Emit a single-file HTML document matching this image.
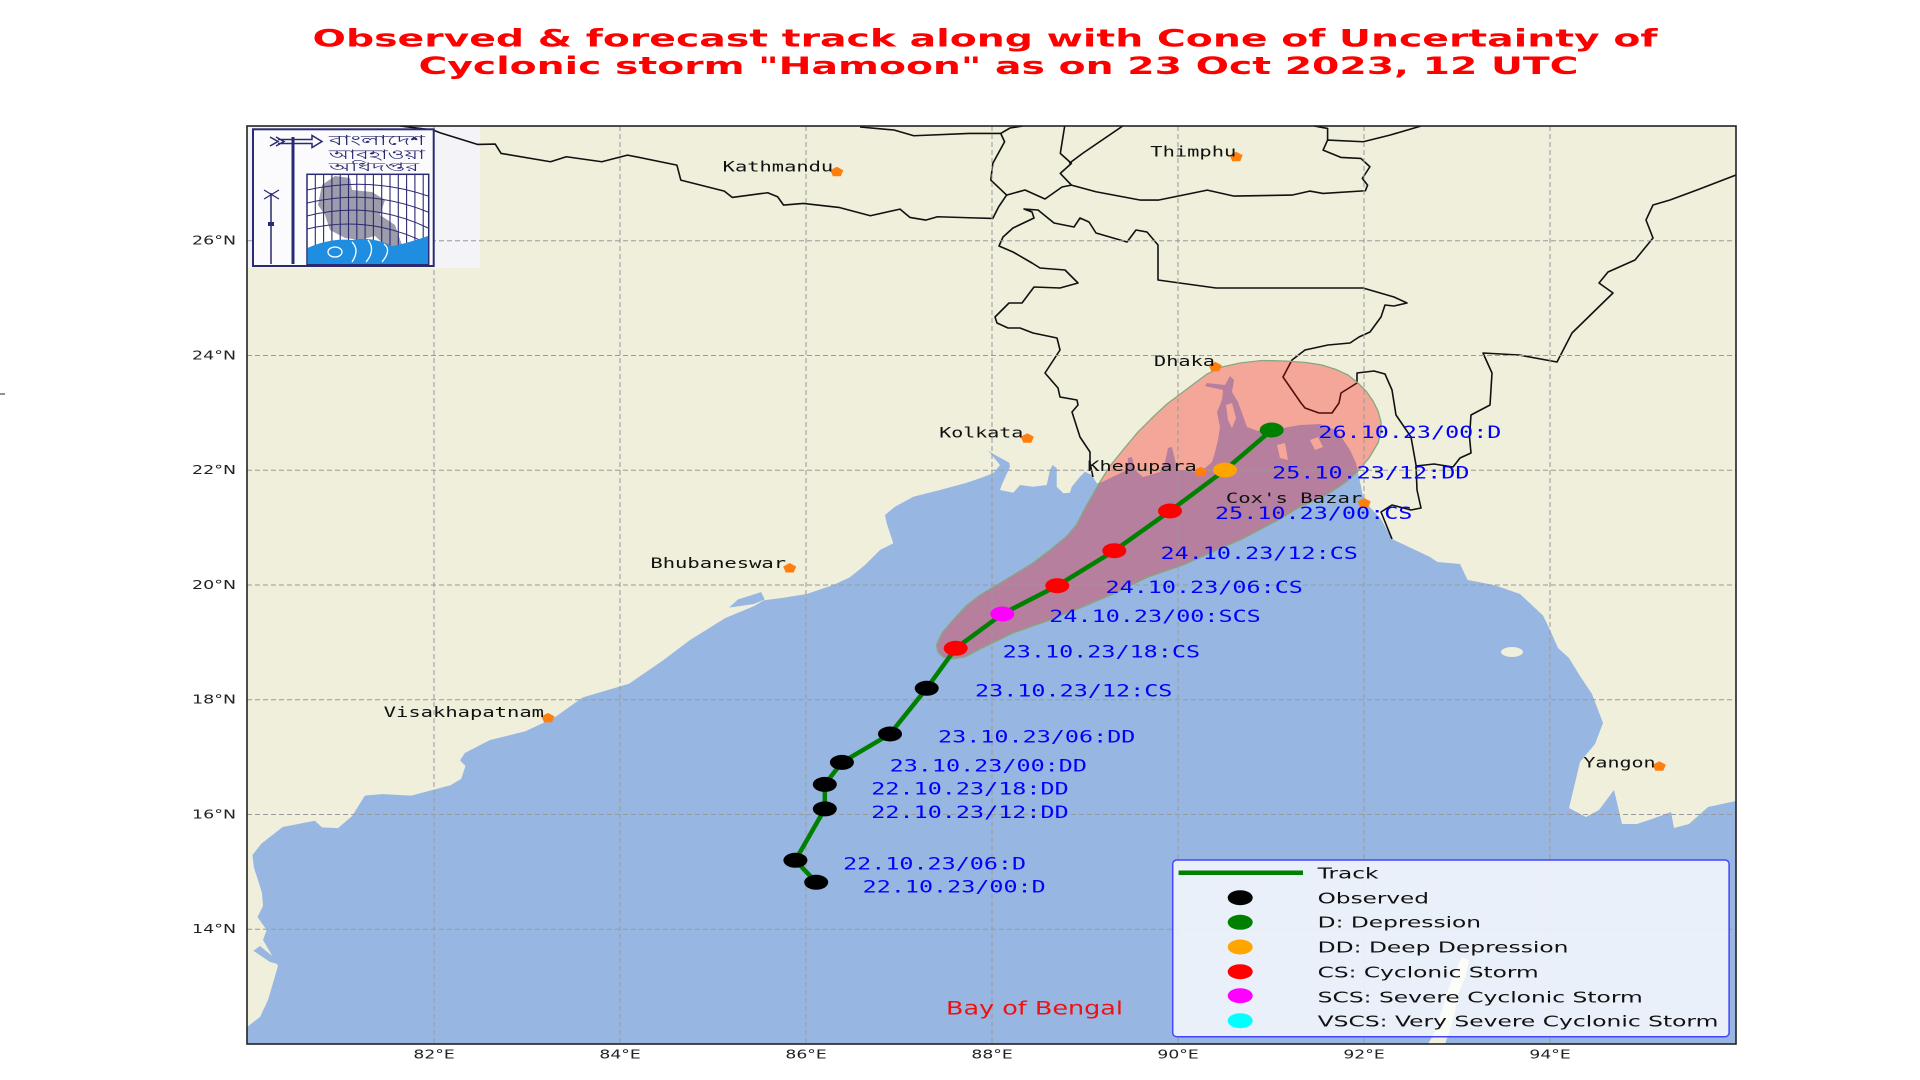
<!DOCTYPE html>
<html>
<head>
<meta charset="utf-8">
<style>
html,body{margin:0;padding:0;background:#fff;}
svg{display:block;}
.mono{font-family:"DejaVu Sans Mono","Liberation Mono",monospace;}
.sans{font-family:"DejaVu Sans","Liberation Sans",sans-serif;}
</style>
</head>
<body>
<svg width="1920" height="1080" viewBox="0 0 1920 1080" xmlns="http://www.w3.org/2000/svg">
<rect x="0" y="0" width="1920" height="1080" fill="#ffffff"/>

<!-- Title -->
<text class="sans" x="312.5" y="46.7" font-size="24.3" font-weight="bold" fill="#ff0000" textLength="1345" lengthAdjust="spacingAndGlyphs">Observed &amp; forecast track along with Cone of Uncertainty of</text>
<text class="sans" x="418.5" y="74" font-size="24.3" font-weight="bold" fill="#ff0000" textLength="1160" lengthAdjust="spacingAndGlyphs">Cyclonic storm "Hamoon" as on 23 Oct 2023, 12 UTC</text>

<line x1="0" y1="394" x2="5" y2="394" stroke="#222" stroke-width="1"/>

<defs>
<clipPath id="plot"><rect x="247" y="126" width="1489" height="918"/></clipPath>
</defs>

<g clip-path="url(#plot)">
<!-- land -->
<rect x="247" y="126" width="1489" height="918" fill="#efefdb"/>
<!-- ocean -->
<path fill="#97b6e1" d="M247,1027 L260,1017 L268,1000 L278,966 L266,945 L263,940 L266.7,930 L257.5,917 L263,906 L262,893 L258,880 L254,868 L252.4,855 L261.3,843.7 L282.7,827 L314.8,820.7 L322,827.4 L338,828.1 L352.3,815.9 L364.8,795.6 L382.7,794.1 L411.2,795.6 L450.5,785.2 L461.2,778.9 L465.5,766 L460.1,760.4 L464.8,753 L489.8,740.1 L525.5,731.2 L554,717.9 L582.6,697.5 L629,683.8 L662.9,660.5 L689.7,640.2 L725.4,618 L754,606.1 L764,600.2 L780,598.3 L806.7,594 L833.3,585 L850,577.3 L865,565 L880,550 L893.3,543.3 L886.7,523.3 L885,515 L895,506.7 L913.3,496.7 L940,490 L966.7,482.7 L980,478.3 L993.3,473.3 L1000,465 L990,452.7 L987.3,450 L993.3,454 L1009.3,462.7 L1010,466.7 L1001.7,485 L1000,490 L1013.3,492.7 L1020,485 L1033.3,486.7 L1046.7,485 L1050,470 L1052.7,465 L1056.7,468.3 L1056.7,486.7 L1063.3,493.3 L1070,492.7 L1071.7,486.7 L1080,476.7 L1085,471.7 L1091.7,475 L1096.7,483.3 L1100,483 L1127,470 L1128,458 L1132,457 L1135,470 L1143,477 L1160,472 L1165,462 L1168,448 L1172,447 L1175,460 L1177,470 L1187,470 L1195,472 L1205,468 L1212,462 L1215,452 L1218,440 L1220,427 L1217,412 L1222,400 L1223,390 L1205,386 L1207,383 L1225,385 L1230,376 L1234,380 L1232,392 L1238,402 L1242,413 L1247,427 L1258,431 L1271,428 L1283,428 L1300,425 L1320,424 L1335,430 L1342,438 L1350,450 L1356,463 L1359,477 L1364,501 L1381,519 L1392,539 L1411,548 L1430,557 L1437.5,562 L1460,564 L1467.6,580 L1494,585 L1520,594 L1543,615.5 L1550,630 L1558,648 L1569,658 L1580,676 L1592,694 L1603,723 L1595,744 L1580,762 L1575,783 L1569,808 L1586,817 L1599,810 L1614,790 L1622,824 L1637,824 L1652,819 L1671,812 L1674,828 L1689,824 L1708,807 L1736,801 L1736,1044 L247,1044 Z"/>
<!-- lakes -->
<path fill="#97b6e1" d="M253.3,950.7 L260,946 L275,958.3 L278,964 L270,962 Z"/>
<path fill="#97b6e1" d="M729,607.6 L737.9,599.5 L761.1,592.1 L764.7,599.5 L754,604 Z"/>
<!-- islands -->
<path fill="#efefdb" d="M1226,405 L1232,403 L1236,418 L1232,428 L1228,420 Z"/>
<path fill="#efefdb" d="M1277,445 L1285,443 L1288,460 L1280,458 Z"/>
<path fill="#efefdb" d="M1310,440 L1318,437 L1323,447 L1315,450 Z"/>
<ellipse cx="1512" cy="652" rx="11" ry="5" fill="#efefdb"/>
<path fill="#efefdb" d="M1462,957 L1469,960 L1466,975 L1458,995 L1455,1012 L1450,1030 L1445,1044 L1428,1044 L1436,1030 L1442,1010 L1448,990 L1455,972 Z"/>

<!-- logo light background -->
<rect x="247" y="126" width="233" height="142" fill="#f4f3f7"/>

<!-- borders -->
<g fill="none" stroke="#111" stroke-width="1.6" stroke-linejoin="round">
<path d="M400,126 L433,130 L440,132.75 L477.4,144.4 L495.2,144.1 L501.1,153.4 L550.5,161.75 L566.3,156.75 L601.8,161.75 L627.5,155.1 L676.9,165.1 L680.8,180.1 L724.3,191.1 L732.2,197.4 L767.7,192.75 L777.6,196.75 L783.6,205.1 L803.3,203.4 L838.8,207.4 L870.4,215.75 L900,209.1 L909.9,217.4 L925.7,220.1 L937.5,216.75 L969.1,217.75 L992.8,218.4 L998.7,206.75 L1006.6,195.1 L990.8,180.1 L992.8,163.4 L1004.6,141.75 L1000.7,133.4 L969.1,133.4 L913.8,135.75 L894,130 L860,127"/>
<path d="M1000.7,133.4 L1010,128 L1023,126"/>
<path d="M1006.6,195.1 L1025,190 L1045,199 L1062,187 L1071.4,185.1"/>
<path d="M1064.7,126 L1060.3,153.4 L1071.4,163.4 L1060.3,173.4 L1071.4,185.1 L1095.9,191.75 L1140.5,200.1 L1158.3,200.1 L1207.3,190.1 L1234,196.1 L1291.9,195.1 L1309.7,191.1 L1323.1,193.4 L1365.4,190.75 L1367.6,185.1 L1362.3,178.4 L1369.9,166.75 L1360.9,158.4 L1340.9,157.4 L1323.1,150.1 L1327.6,140.1 L1363.2,141.75 L1389.9,135.1 L1421.1,126"/>
<path d="M1069.2,163.4 L1082.6,153.4 L1122.7,126"/>
<path d="M1327.6,140.1 L1327.6,128.4 L1314,126"/>
<path d="M1093,477 L1090,463 L1090,452 L1080,437 L1072,412 L1078,405 L1077,400 L1060,397 L1058,388 L1045,373 L1060,350 L1057,338 L1033,333 L1020,328 L1008,328 L997,323 L995,317 L1009,303 L1022,303 L1034,287 L1060,288 L1078,283 L1065,270 L1040,268 L1032,263 L1013,252 L999,246 L1003,237 L1013,228 L1034,218 L1032,212 L1024,209 L1038,210 L1054,223 L1074,227 L1080,218 L1089,222 L1096,233 L1127,242 L1136,230 L1147,232 L1158,245 L1158,280 L1216,288 L1305,288 L1363,288 L1394,297 L1407,303 L1394,306 L1385,305 L1381,317 L1370,332 L1359,337 L1350,343 L1328,345 L1305,350 L1292,360 L1283,377 L1301,403 L1305,408 L1319,413 L1332,413 L1339,403 L1341,393 L1357,383 L1357,373 L1374,371 L1385,374 L1392,390 L1396,415 L1411,437 L1416,465 L1417,490 L1421,508 L1411,510 L1392,505 L1381,512 L1392,539"/>
<path d="M1736,175 L1697,190 L1670,200 L1653,205 L1646,220 L1653,238 L1635,260 L1608,272 L1599,283 L1613,293 L1572,333 L1557,362 L1519,355 L1483,353 L1492,373 L1490,405 L1471,415 L1469.5,437 L1471,453 L1460,458 L1453,467 L1434,464 L1416,466"/>
</g>

<!-- cone -->
<path fill="rgba(255,0,0,0.3)" stroke="#86a87e" stroke-width="1.3" d="M938,652 L936.5,645 L942,633 L953,620 L966,606 L980,595 L997,585 L1015,574 L1033,563 L1050,550 L1067,536 L1077,524 L1084,510 L1092,496 L1100,482 L1110,466 L1123,450 L1138,432 L1153,417 L1167,404 L1183,392 L1195,383 L1207,374 L1222,367 L1240,363 L1262,360.5 L1285,361 L1306,362.5 L1322,365 L1336,369.5 L1348,375 L1358,383 L1366,391 L1373,401 L1378,411 L1381,422 L1381,432 L1378,443 L1369,458 L1358,471 L1346,482 L1328,494 L1298,508 L1280,519 L1242,539 L1210,553 L1183,565 L1148,577 L1113,594 L1080,608 L1050,620 L1013,633 L980,649 L965,657 L952,659 L943,657 Z"/>

<!-- gridlines -->
<g stroke="#9a9a9a" stroke-width="1" stroke-dasharray="5,3" fill="none">
<line x1="434" y1="126" x2="434" y2="1044"/>
<line x1="620" y1="126" x2="620" y2="1044"/>
<line x1="806" y1="126" x2="806" y2="1044"/>
<line x1="992" y1="126" x2="992" y2="1044"/>
<line x1="1178" y1="126" x2="1178" y2="1044"/>
<line x1="1364" y1="126" x2="1364" y2="1044"/>
<line x1="1550" y1="126" x2="1550" y2="1044"/>
<line x1="247" y1="240.75" x2="1736" y2="240.75"/>
<line x1="247" y1="355.5" x2="1736" y2="355.5"/>
<line x1="247" y1="470.25" x2="1736" y2="470.25"/>
<line x1="247" y1="585" x2="1736" y2="585"/>
<line x1="247" y1="699.75" x2="1736" y2="699.75"/>
<line x1="247" y1="814.5" x2="1736" y2="814.5"/>
<line x1="247" y1="929.25" x2="1736" y2="929.25"/>
</g>

<!-- logo -->
<rect x="253" y="129.3" width="180.7" height="136.7" fill="#fbfbfd" stroke="#2a2a72" stroke-width="2"/>
<line x1="293" y1="137" x2="293" y2="264" stroke="#2a2a72" stroke-width="3"/>
<path d="M270,137 L278,141.5 L270,146 M276,137 L284,141.5 L276,146 M278,139.5 L312,139.5 L312,135.5 L322,141.5 L312,147.5 L312,143.5 L278,143.5" fill="none" stroke="#2a2a72" stroke-width="1.5"/>
<line x1="271" y1="193" x2="271" y2="264" stroke="#2a2a72" stroke-width="1.5"/>
<line x1="264" y1="190" x2="279" y2="199" stroke="#2a2a72" stroke-width="1.3"/>
<line x1="264" y1="199" x2="279" y2="190" stroke="#2a2a72" stroke-width="1.3"/>
<rect x="268" y="222" width="6" height="4" fill="#2a2a72"/>
<text x="329" y="145" font-family="'Liberation Sans',sans-serif" font-size="14" fill="#2a2a72" textLength="96" lengthAdjust="spacingAndGlyphs">বাংলাদেশ</text>
<text x="329" y="159" font-family="'Liberation Sans',sans-serif" font-size="13" fill="#2a2a72" textLength="96" lengthAdjust="spacingAndGlyphs">আবহাওয়া</text>
<text x="329" y="171" font-family="'Liberation Sans',sans-serif" font-size="12" fill="#2a2a72" textLength="90" lengthAdjust="spacingAndGlyphs">অধিদপ্তর</text>
<rect x="307" y="174.3" width="121.7" height="90" fill="#ffffff" stroke="#2a2a72" stroke-width="1.5"/>
<path fill="#9c9caa" d="M322,185 L335,176 L350,178 L352,190 L372,192 L385,200 L380,215 L395,225 L402,245 L390,250 L375,236 L360,240 L345,238 L330,230 L325,215 L318,205 Z"/>
<g stroke="#2a2a72" stroke-width="1.1">
<line x1="315.3" y1="175" x2="315.3" y2="264"/><line x1="323.6" y1="175" x2="323.6" y2="264"/>
<line x1="331.9" y1="175" x2="331.9" y2="264"/><line x1="340.2" y1="175" x2="340.2" y2="264"/>
<line x1="348.5" y1="175" x2="348.5" y2="264"/><line x1="356.8" y1="175" x2="356.8" y2="264"/>
<line x1="365.1" y1="175" x2="365.1" y2="264"/><line x1="373.4" y1="175" x2="373.4" y2="264"/>
<line x1="381.7" y1="175" x2="381.7" y2="264"/><line x1="390" y1="175" x2="390" y2="264"/>
<line x1="398.3" y1="175" x2="398.3" y2="264"/><line x1="406.6" y1="175" x2="406.6" y2="264"/>
<line x1="414.9" y1="175" x2="414.9" y2="264"/><line x1="423.2" y1="175" x2="423.2" y2="264"/>
</g>
<g stroke="#2a2a72" stroke-width="1" fill="none">
<path d="M307,190 Q370,176 428,196"/>
<path d="M307,203 Q370,188 428,212"/>
<path d="M307,216 Q370,200 428,228"/>
<path d="M307,229 Q370,214 428,244"/>
</g>
<path fill="#1f8de0" d="M307.5,264 L307.5,248 Q330,238 352,240 Q372,236 392,246 Q405,244 428,236 L428,264 Z"/>
<g stroke="#ffffff" stroke-width="1.3" fill="none">
<ellipse cx="335" cy="252" rx="7" ry="5"/>
<path d="M352,262 Q360,250 352,242"/>
<path d="M366,262 Q376,250 368,240"/>
<path d="M382,262 Q392,250 384,244"/>
</g>

<!-- track -->
<polyline fill="none" stroke="#008000" stroke-width="4.5" stroke-linejoin="round" points="816.2,882.3 795.4,860.3 824.8,808.9 824.8,784.4 841.9,762.4 890,734 926.7,688.3 955.7,648.3 1002.3,614 1057.3,585.7 1114.3,550.7 1170,511 1225,470 1271.7,430"/>
<g>
<ellipse cx="816.2" cy="882.3" rx="12" ry="7.5" fill="#000"/>
<ellipse cx="795.4" cy="860.3" rx="12" ry="7.5" fill="#000"/>
<ellipse cx="824.8" cy="808.9" rx="12" ry="7.5" fill="#000"/>
<ellipse cx="824.8" cy="784.4" rx="12" ry="7.5" fill="#000"/>
<ellipse cx="841.9" cy="762.4" rx="12" ry="7.5" fill="#000"/>
<ellipse cx="890" cy="734" rx="12" ry="7.5" fill="#000"/>
<ellipse cx="926.7" cy="688.3" rx="12" ry="7.5" fill="#000"/>
<ellipse cx="955.7" cy="648.3" rx="12" ry="7.5" fill="#ff0000"/>
<ellipse cx="1002.3" cy="614" rx="12" ry="7.5" fill="#ff00ff"/>
<ellipse cx="1057.3" cy="585.7" rx="12" ry="7.5" fill="#ff0000"/>
<ellipse cx="1114.3" cy="550.7" rx="12" ry="7.5" fill="#ff0000"/>
<ellipse cx="1170" cy="511" rx="12" ry="7.5" fill="#ff0000"/>
<ellipse cx="1225" cy="470" rx="12" ry="7.5" fill="#ffa500"/>
<ellipse cx="1271.7" cy="430" rx="12" ry="7.5" fill="#008000"/>
</g>

<!-- city markers -->
<g fill="#ff7f0e">
<polygon transform="translate(836.8,171.75)" points="0,-5 6.5,-1.5 4,4.5 -4,4.5 -6.5,-1.5"/>
<polygon transform="translate(1236.2,156.75)" points="0,-5 6.5,-1.5 4,4.5 -4,4.5 -6.5,-1.5"/>
<polygon transform="translate(1215.3,366.75)" points="0,-5 6.5,-1.5 4,4.5 -4,4.5 -6.5,-1.5"/>
<polygon transform="translate(1027.3,438.3)" points="0,-5 6.5,-1.5 4,4.5 -4,4.5 -6.5,-1.5"/>
<polygon transform="translate(1200.7,471.7)" points="0,-5 6.5,-1.5 4,4.5 -4,4.5 -6.5,-1.5"/>
<polygon transform="translate(1364.2,503)" points="0,-5 6.5,-1.5 4,4.5 -4,4.5 -6.5,-1.5"/>
<polygon transform="translate(789.7,568)" points="0,-5 6.5,-1.5 4,4.5 -4,4.5 -6.5,-1.5"/>
<polygon transform="translate(548,717.9)" points="0,-5 6.5,-1.5 4,4.5 -4,4.5 -6.5,-1.5"/>
<polygon transform="translate(1659.3,766.2)" points="0,-5 6.5,-1.5 4,4.5 -4,4.5 -6.5,-1.5"/>
</g>

<!-- city labels -->
<g class="mono" font-size="14" fill="#111">
<text x="722.7" y="171.5" textLength="110.5" lengthAdjust="spacingAndGlyphs">Kathmandu</text>
<text x="1150.3" y="156.7" textLength="86" lengthAdjust="spacingAndGlyphs">Thimphu</text>
<text x="1154" y="366" textLength="61" lengthAdjust="spacingAndGlyphs">Dhaka</text>
<text x="939.3" y="437.7" textLength="84" lengthAdjust="spacingAndGlyphs">Kolkata</text>
<text x="1087.3" y="471" textLength="109.4" lengthAdjust="spacingAndGlyphs">Khepupara</text>
<text x="1225.9" y="503" textLength="136.4" lengthAdjust="spacingAndGlyphs">Cox's Bazar</text>
<text x="650.4" y="568" textLength="135.7" lengthAdjust="spacingAndGlyphs">Bhubaneswar</text>
<text x="383.7" y="717.1" textLength="160.3" lengthAdjust="spacingAndGlyphs">Visakhapatnam</text>
<text x="1583.4" y="767.3" textLength="72.2" lengthAdjust="spacingAndGlyphs">Yangon</text>
</g>

<!-- track labels -->
<g class="mono" font-size="17" fill="#0000ff">
<text x="1318.4" y="438" textLength="183" lengthAdjust="spacingAndGlyphs">26.10.23/00:D</text>
<text x="1272.1" y="478.7" textLength="197.4" lengthAdjust="spacingAndGlyphs">25.10.23/12:DD</text>
<text x="1215" y="519" textLength="197.4" lengthAdjust="spacingAndGlyphs">25.10.23/00:CS</text>
<text x="1160.5" y="559" textLength="197.4" lengthAdjust="spacingAndGlyphs">24.10.23/12:CS</text>
<text x="1105.5" y="593" textLength="197.4" lengthAdjust="spacingAndGlyphs">24.10.23/06:CS</text>
<text x="1049.3" y="622" textLength="211.5" lengthAdjust="spacingAndGlyphs">24.10.23/00:SCS</text>
<text x="1002.7" y="657.3" textLength="197.4" lengthAdjust="spacingAndGlyphs">23.10.23/18:CS</text>
<text x="975" y="696.5" textLength="197.4" lengthAdjust="spacingAndGlyphs">23.10.23/12:CS</text>
<text x="938" y="742.5" textLength="197.4" lengthAdjust="spacingAndGlyphs">23.10.23/06:DD</text>
<text x="889.6" y="771.5" textLength="197.4" lengthAdjust="spacingAndGlyphs">23.10.23/00:DD</text>
<text x="871.3" y="794.5" textLength="197.4" lengthAdjust="spacingAndGlyphs">22.10.23/18:DD</text>
<text x="871.3" y="818" textLength="197.4" lengthAdjust="spacingAndGlyphs">22.10.23/12:DD</text>
<text x="843.1" y="869.3" textLength="183" lengthAdjust="spacingAndGlyphs">22.10.23/06:D</text>
<text x="862.7" y="892.6" textLength="183" lengthAdjust="spacingAndGlyphs">22.10.23/00:D</text>
</g>

<text class="sans" x="946" y="1014.5" font-size="19" fill="#ee1111" textLength="177" lengthAdjust="spacingAndGlyphs">Bay of Bengal</text>

<!-- legend -->
<rect x="1172.7" y="860" width="556.4" height="176.7" rx="4" ry="4" fill="rgba(255,255,255,0.8)" stroke="#4444ff" stroke-width="1.5"/>
<line x1="1178.6" y1="872.7" x2="1303" y2="872.7" stroke="#008000" stroke-width="4.5"/>
<ellipse cx="1240.2" cy="897.7" rx="12.5" ry="7.5" fill="#000000"/>
<ellipse cx="1240.2" cy="922.3" rx="12.5" ry="7.5" fill="#008000"/>
<ellipse cx="1240.2" cy="947" rx="12.5" ry="7.5" fill="#ffa500"/>
<ellipse cx="1240.2" cy="971.7" rx="12.5" ry="7.5" fill="#ff0000"/>
<ellipse cx="1240.2" cy="995.7" rx="12.5" ry="7.5" fill="#ff00ff"/>
<ellipse cx="1240.2" cy="1020.7" rx="12.5" ry="7.5" fill="#00ffff"/>
<g class="sans" font-size="15" fill="#111">
<text x="1317.7" y="878.3" textLength="60.8" lengthAdjust="spacingAndGlyphs">Track</text>
<text x="1317.7" y="903.3" textLength="111.3" lengthAdjust="spacingAndGlyphs">Observed</text>
<text x="1317.7" y="927.7" textLength="163.4" lengthAdjust="spacingAndGlyphs">D: Depression</text>
<text x="1317.7" y="952.7" textLength="250.8" lengthAdjust="spacingAndGlyphs">DD: Deep Depression</text>
<text x="1317.7" y="977.7" textLength="221" lengthAdjust="spacingAndGlyphs">CS: Cyclonic Storm</text>
<text x="1317.7" y="1002.3" textLength="325.1" lengthAdjust="spacingAndGlyphs">SCS: Severe Cyclonic Storm</text>
<text x="1317.7" y="1026.7" textLength="400.7" lengthAdjust="spacingAndGlyphs">VSCS: Very Severe Cyclonic Storm</text>
</g>
</g>

<!-- frame -->
<rect x="247" y="126" width="1489" height="918" fill="none" stroke="#222" stroke-width="1.6"/>

<!-- tick labels -->
<g class="sans" font-size="12" fill="#222">
<text x="192" y="244.5" textLength="44" lengthAdjust="spacingAndGlyphs">26°N</text>
<text x="192" y="359.3" textLength="44" lengthAdjust="spacingAndGlyphs">24°N</text>
<text x="192" y="474" textLength="44" lengthAdjust="spacingAndGlyphs">22°N</text>
<text x="192" y="588.8" textLength="44" lengthAdjust="spacingAndGlyphs">20°N</text>
<text x="192" y="703.5" textLength="44" lengthAdjust="spacingAndGlyphs">18°N</text>
<text x="192" y="818.3" textLength="44" lengthAdjust="spacingAndGlyphs">16°N</text>
<text x="192" y="933" textLength="44" lengthAdjust="spacingAndGlyphs">14°N</text>
<text x="413.4" y="1058.3" textLength="41.3" lengthAdjust="spacingAndGlyphs">82°E</text>
<text x="599.4" y="1058.3" textLength="41.3" lengthAdjust="spacingAndGlyphs">84°E</text>
<text x="785.4" y="1058.3" textLength="41.3" lengthAdjust="spacingAndGlyphs">86°E</text>
<text x="971.4" y="1058.3" textLength="41.3" lengthAdjust="spacingAndGlyphs">88°E</text>
<text x="1157.4" y="1058.3" textLength="41.3" lengthAdjust="spacingAndGlyphs">90°E</text>
<text x="1343.4" y="1058.3" textLength="41.3" lengthAdjust="spacingAndGlyphs">92°E</text>
<text x="1529.4" y="1058.3" textLength="41.3" lengthAdjust="spacingAndGlyphs">94°E</text>
</g>
</svg>
</body>
</html>
